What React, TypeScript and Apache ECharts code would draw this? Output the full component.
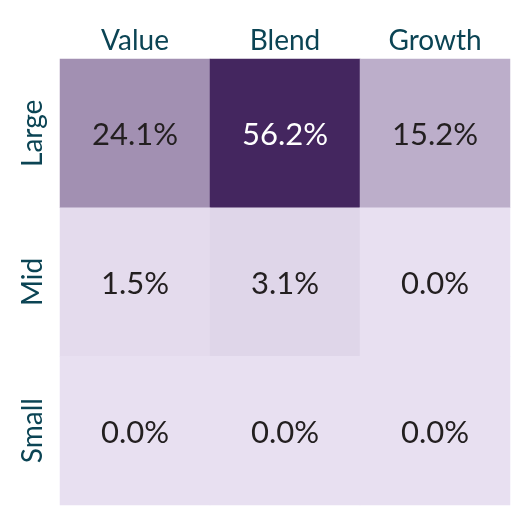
import React, { useEffect, useRef } from "react";
import * as echarts from "echarts";

const styles = ["Value", "Blend", "Growth"];
const sizes = ["Large", "Mid", "Small"];
// rows follow sizes, columns follow styles
const weights = [
  [24.1, 56.2, 15.2],
  [1.5, 3.1, 0.0],
  [0.0, 0.0, 0.0],
];

const App = () => {
  const chartRef = useRef<HTMLDivElement>(null);

  useEffect(() => {
    if (!chartRef.current) return;
    const myChart = echarts.init(chartRef.current, null, { renderer: "svg" });

    const maxVal = Math.max(...weights.flat());
    const data: any[] = [];
    weights.forEach((row, y) => {
      row.forEach((v, x) => {
        data.push({
          value: [x, y, v],
          label: { color: v > maxVal * 0.6 ? "#ffffff" : "#231f20" },
        });
      });
    });

    const option = {
      animation: false,
      grid: { left: 60, top: 59, right: 2, bottom: 1 },
      xAxis: {
        type: "category",
        position: "top",
        data: styles,
        axisLine: { show: false },
        axisTick: { show: false },
        splitArea: { show: false },
        axisLabel: {
          margin: 6,
          fontSize: 28,
          fontFamily: "Lato",
          color: "#0b4454",
        },
      },
      yAxis: {
        type: "category",
        inverse: true,
        data: sizes,
        axisLine: { show: false },
        axisTick: { show: false },
        axisLabel: {
          rotate: 90,
          margin: 15,
          fontSize: 28,
          fontFamily: "Lato",
          color: "#0b4454",
        },
      },
      visualMap: {
        show: false,
        min: 0,
        max: maxVal,
        calculable: false,
        inRange: { color: ["#e8e0f1", "#44265f"] },
      },
      series: [
        {
          type: "heatmap",
          data,
          label: {
            show: true,
            fontSize: 31,
            fontFamily: "Lato",
            formatter: (p: any) => p.value[2].toFixed(1) + "%",
          },
          itemStyle: { borderWidth: 0 },
          emphasis: { disabled: true },
        },
      ],
    };

    myChart.setOption(option);
    return () => {
      myChart.dispose();
    };
  }, []);

  return (
    <div
      ref={chartRef}
      style={{ position: "fixed", left: 0, top: 0, width: 512, height: 506 }}
    />
  );
};

export default App;
